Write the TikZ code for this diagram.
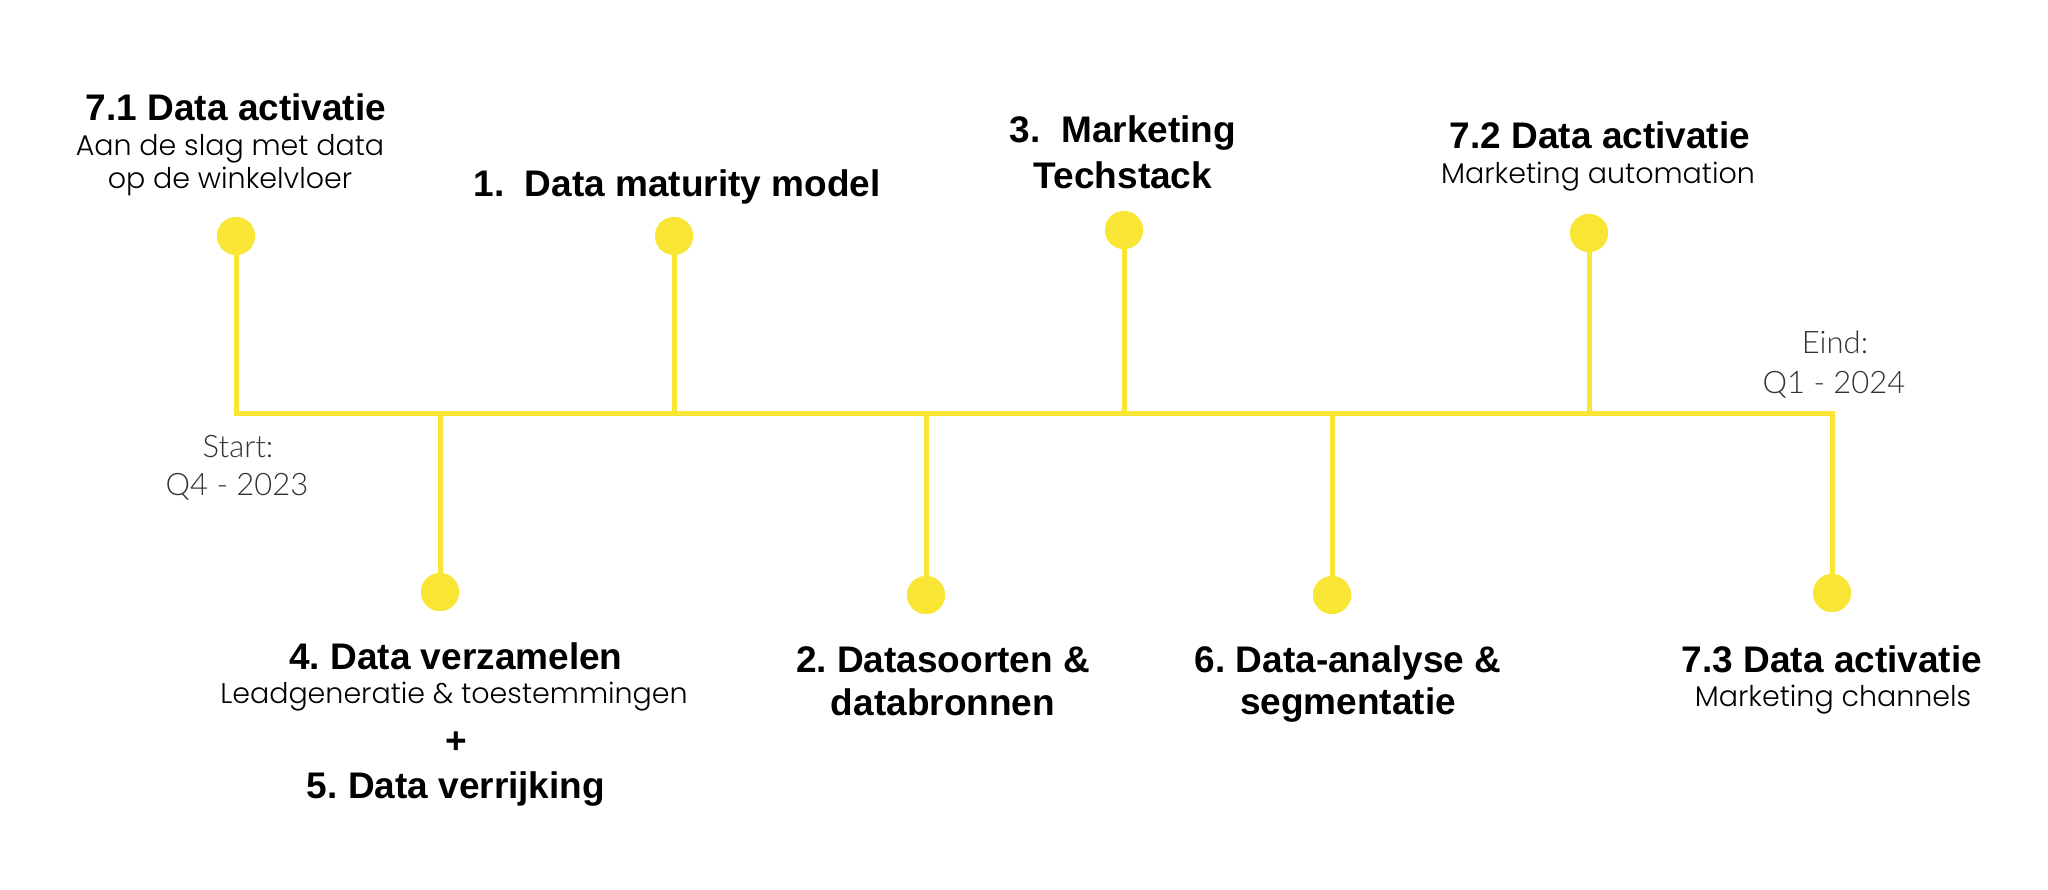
\documentclass[tikz,border=0pt]{standalone}
\usepackage{fontspec}
\setmainfont{Liberation Sans}
\newfontfamily\lightf{Poppins Light}
\newfontfamily\thinf{Lato Light}
\definecolor{yl}{RGB}{249,229,52}
\definecolor{greytext}{RGB}{50,50,50}
\frenchspacing
\tikzset{
  dot/.style={circle, fill=yl, minimum size=38pt, inner sep=0pt},
  tl/.style={draw=yl, line width=5pt},
  head/.style={font=\fontsize{37}{44}\selectfont\bfseries, anchor=base, inner sep=0pt},
  sub/.style={font=\fontsize{28.5}{34}\selectfont\lightf, anchor=base, inner sep=0pt},
  when/.style={font=\fontsize{31}{37}\selectfont\thinf, text=greytext, anchor=base, inner sep=0pt}
}
\begin{document}
\begin{tikzpicture}[x=1pt,y=-1pt]
\useasboundingbox (0,0) rectangle (2048,889);
% main line points
\coordinate (L) at (236,413);
\coordinate (R) at (1832,413);
\coordinate (m1) at (674,413);
\coordinate (m3) at (1124,413);
\coordinate (m72) at (1589,413);
\coordinate (m4) at (440,413);
\coordinate (m2) at (926,413);
\coordinate (m6) at (1332,413);
% dots
\node[dot] (d71) at (236,236) {};
\node[dot] (d1) at (674,236) {};
\node[dot] (d3) at (1124,230) {};
\node[dot] (d72) at (1589,233) {};
\node[dot] (d4) at (440,592) {};
\node[dot] (d2) at (926,595) {};
\node[dot] (d6) at (1332,595) {};
\node[dot] (d73) at (1832,593) {};
% connectors
\draw[tl, line join=miter] (d71.center) -- (L) -- (R) -- (d73.center);
\draw[tl] (d1.center) -- (m1);
\draw[tl] (d3.center) -- (m3);
\draw[tl] (d72.center) -- (m72);
\draw[tl] (m4) -- (d4.center);
\draw[tl] (m2) -- (d2.center);
\draw[tl] (m6) -- (d6.center);
% redraw dots on top
\foreach \n in {d71,d1,d3,d72,d4,d2,d6,d73}{\fill[yl] (\n) circle (19pt);}
% texts top
\node[head] (t71) at (236,120) {7.1 Data activatie};
\node[sub] (s71a) at (230,155) {Aan de slag met data};
\node[sub] (s71b) at (230,188) {op de winkelvloer};
\node[head] (t1) at (677,196) {1.\ \ Data maturity model};
\node[head] (t3a) at (1123,142) {3.\ \ Marketing};
\node[head] (t3b) at (1123,188) {Techstack};
\node[head] (t72) at (1600,148) {7.2 Data activatie};
\node[sub] (s72) at (1598,183) {Marketing automation};
% start / end
\node[when] (e1) at (1835,353) {Eind:};
\node[when] (e2) at (1834,393) {Q1 - 2024};
\node[when] (st1) at (238,457) {Start:};
\node[when] (st2) at (237,495) {Q4 - 2023};
% texts bottom
\node[head] (t4) at (456,669) {4. Data verzamelen};
\node[sub] (s4) at (454,703) {Leadgeneratie \& toestemmingen};
\node[head, anchor=center] (plus) at (456,743) {+};
\node[head] (t5) at (456,798) {5. Data verrijking};
\node[head] (t2a) at (943,672) {2. Datasoorten \&};
\node[head] (t2b) at (943,715) {databronnen};
\node[head] (t6a) at (1348,672) {6. Data-analyse \&};
\node[head] (t6b) at (1348,714) {segmentatie};
\node[head] (t73) at (1832,672) {7.3 Data activatie};
\node[sub] (s73) at (1833,706) {Marketing channels};
\end{tikzpicture}
\end{document}
